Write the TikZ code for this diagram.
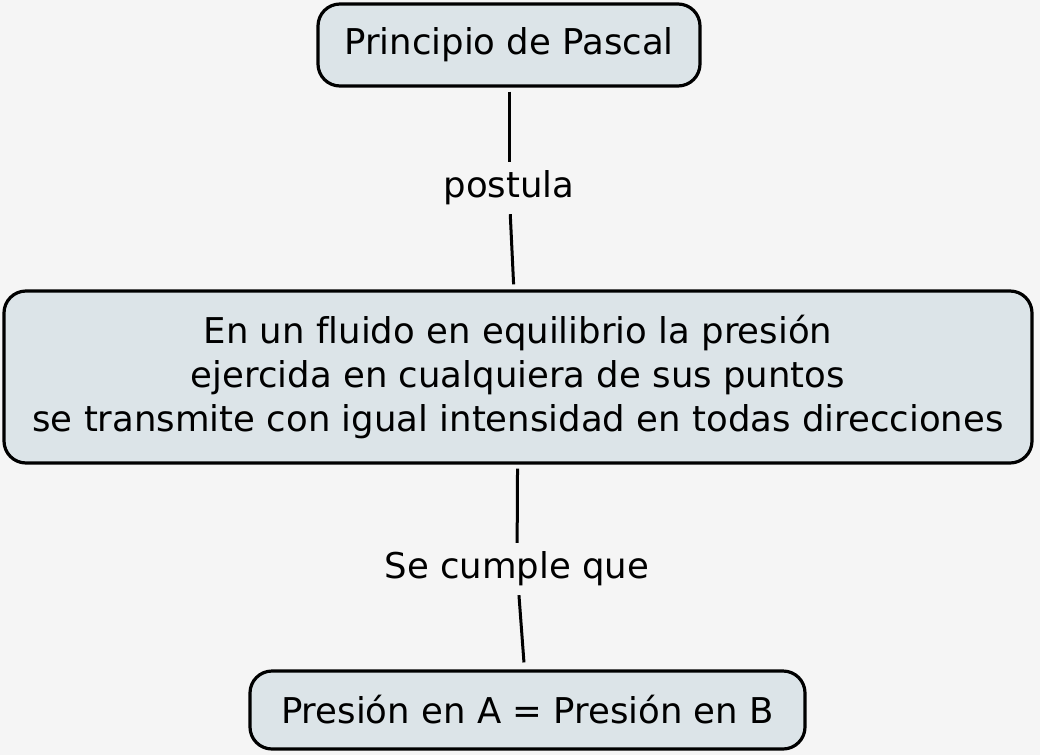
\documentclass[tikz,border=0pt]{standalone}
\usepackage{fontspec}
\setmainfont[Ligatures=NoCommon]{DejaVu Sans}
\definecolor{fondo}{HTML}{F5F5F5}
\definecolor{relleno}{HTML}{DCE4E8}
\tikzset{
    concepto/.style={draw, line width=3.2pt, rounded corners=22pt, fill=relleno, align=center, inner sep=0pt},
    enlace/.style={inner sep=0pt, minimum height=52pt},
    linea/.style={line width=3pt}
}
\begin{document}
\begin{tikzpicture}[x=1pt,y=-1pt,font=\fontsize{35.5pt}{44pt}\selectfont]
    \fill[fondo] (0,0) rectangle (1040,755);
    \useasboundingbox (0,0) rectangle (1040,755);
    \node[concepto, minimum width=382pt, minimum height=82pt] (pascal) at (509,45) {Principio de Pascal};
    \node[concepto, minimum width=1028pt, minimum height=172pt] (fluido) at (518,377) {En un fluido en equilibrio la presión\\ejercida en cualquiera de sus puntos\\se transmite con igual intensidad en todas direcciones};
    \node[concepto, minimum width=555pt, minimum height=78pt] (presion) at (527.5,710) {Presión en A = Presión en B};
    \node[enlace] (postula) at (509,188) {postula};
    \node[enlace] (cumple) at (517,569) {Se cumple que};
    \draw[linea, shorten <=4pt] (pascal) -- (postula);
    \draw[linea, shorten >=5pt] (postula) -- (fluido);
    \draw[linea, shorten <=4pt] (fluido) -- (cumple);
    \draw[linea, shorten >=7pt] (cumple) -- (presion);
\end{tikzpicture}
\end{document}
